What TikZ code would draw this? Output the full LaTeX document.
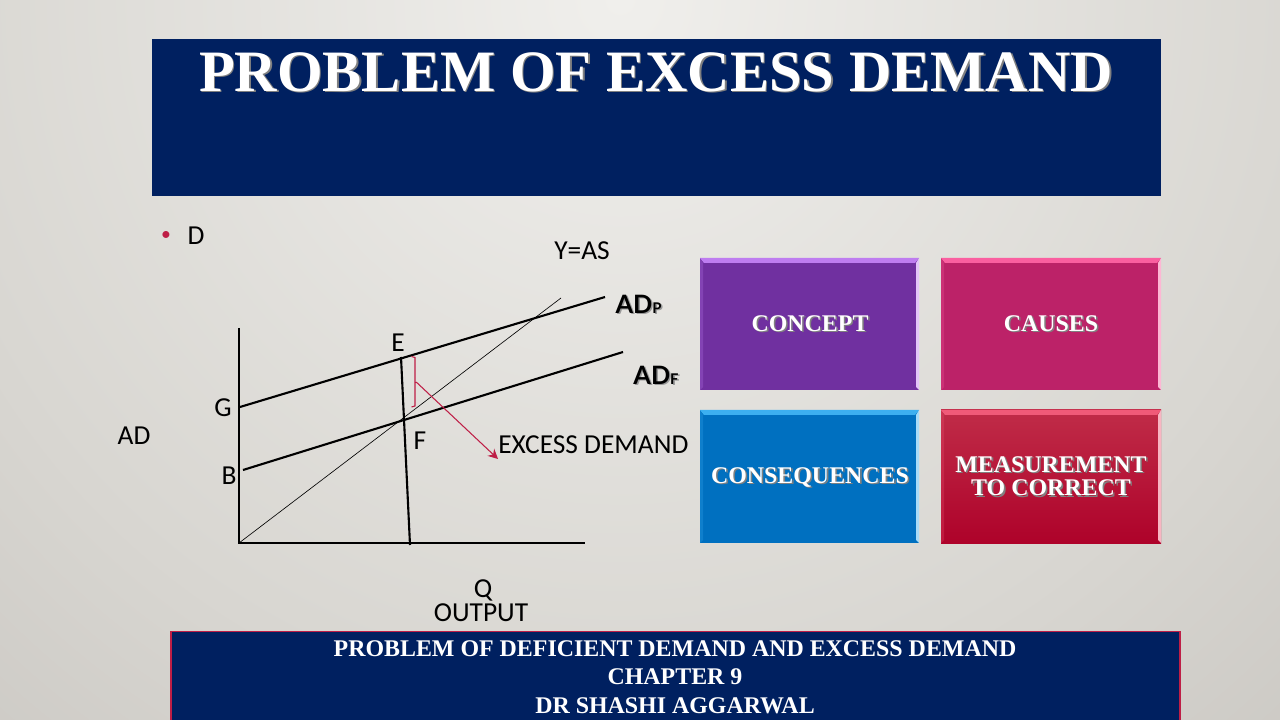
\documentclass[tikz,border=0pt]{standalone}
\usepackage{fontspec}
\setmainfont{Carlito}
\newfontfamily\headfont{Liberation Serif}
\newfontfamily\curvefont{Lato}
\usepackage{tikz}
\usetikzlibrary{arrows.meta,calc}
\definecolor{bginner}{RGB}{240,239,236}
\definecolor{bgmid}{RGB}{216,214,209}
\definecolor{bgouter}{RGB}{198,195,190}
\definecolor{dfnavy}{RGB}{0,32,96}
\definecolor{dfred}{RGB}{190,30,70}
\definecolor{dfpurple}{RGB}{112,48,160}
\definecolor{dfpurplelt}{RGB}{190,125,240}
\definecolor{dfmagenta}{RGB}{188,34,104}
\definecolor{dfmagentalt}{RGB}{250,95,160}
\definecolor{dfblue}{RGB}{0,112,192}
\definecolor{dfbluelt}{RGB}{60,175,240}
\definecolor{dfcrimson}{RGB}{174,2,42}
\definecolor{dfcrimsontop}{RGB}{192,44,72}
\definecolor{dfcrimsonlt}{RGB}{240,90,120}
\pgfdeclareradialshading{slidebg}{\pgfpointorigin}{color(0bp)=(bginner); color(18bp)=(bgmid); color(29bp)=(bgouter); color(50bp)=(bgouter)}
% text with a soft drop shadow
\newcommand{\shadowtxt}[2][black!50]{\leavevmode\rlap{\kern1.1pt\raisebox{-1.1pt}{\textcolor{#1}{#2}}}#2}
\tikzstyle{axis} = [line width=1.5pt,black]
\tikzstyle{curve} = [line width=1.5pt,black]
\tikzstyle{plainlabel} = [font=\fontsize{19.5}{22}\selectfont,text=black,inner sep=0pt]
\tikzstyle{adlabel} = [font=\curvefont\bfseries\fontsize{18}{20}\selectfont,text=black,inner sep=0pt]
\tikzstyle{tilelabel} = [font=\headfont\bfseries\fontsize{17}{17}\selectfont,text=white,align=center,inner sep=0pt]
\tikzset{
  tile/.style 2 args={fill=#1,inner sep=0pt,
    path picture={
      \fill[#2] (path picture bounding box.north west) -- (path picture bounding box.north east)
        -- ++(-4,5) -- ($(path picture bounding box.north west)+(4,5)$) -- cycle;
      \fill[#2!45!white] (path picture bounding box.north east) -- (path picture bounding box.south east)
        -- ++(-3,-3) -- ($(path picture bounding box.north east)+(-3,5)$) -- cycle;
      \fill[#2,opacity=0.25] (path picture bounding box.north west) -- (path picture bounding box.south west)
        -- ++(3,-3) -- ($(path picture bounding box.north west)+(3,5)$) -- cycle;
    }}
}
\begin{document}
\begin{tikzpicture}[x=0.025cm,y=-0.025cm]
    \useasboundingbox (0,0) rectangle (1280,720);
    \fill[bgouter] (0,0) rectangle (1280,720);
    \begin{scope}
        \clip (0,0) rectangle (1280,720);
        \shade[shading=slidebg] (620,0) circle [radius=25cm];
    \end{scope}

    % title and footer
    \fill[dfnavy] (152,39) rectangle (1161,196);
    \node[font=\headfont\bfseries\fontsize{41.7}{46}\selectfont,text=white,inner sep=0pt] (title) at (656,73) {\shadowtxt{PROBLEM OF EXCESS DEMAND}};
    \draw[dfred,line width=1pt,fill=dfnavy] (171,720.5) -- (171,631.5) -- (1180,631.5) -- (1180,720.5);
    \node[font=\headfont\bfseries\fontsize{17}{20.5}\selectfont,text=white,align=center,inner sep=0pt,anchor=north] (footer) at (675,640) {PROBLEM OF DEFICIENT DEMAND AND EXCESS DEMAND\\CHAPTER 9\\DR SHASHI AGGARWAL};

    % bullet
    \node[font=\fontsize{14}{16}\selectfont,text=dfred,inner sep=0pt] (bullet) at (166,236) {•};
    \node[plainlabel] (bulletD) at (196,236) {D};

    % graph points
    \coordinate (origin) at (239,543);
    \coordinate (axistop) at (239,328);
    \coordinate (axisend) at (585,543);
    \coordinate (ptG) at (240,407);
    \coordinate (adpend) at (605,297);
    \coordinate (ptB) at (243,470);
    \coordinate (adfend) at (623,352);
    \coordinate (ptE) at (401,357);
    \coordinate (ptQ) at (410,545);
    \coordinate (yasend) at (561,298);

    \draw[axis] (axistop) -- (origin) -- (axisend);
    \draw[curve] (ptG) -- (adpend);
    \draw[curve] (ptB) -- (adfend);
    \draw[curve] (ptE) -- (ptQ);
    \draw[black,line width=0.45pt] (origin) -- (yasend);

    % bracket and pointer
    \coordinate (brtop) at (411.5,356.5);
    \coordinate (brbot) at (411.5,407);
    \coordinate (brtip) at (416.5,382.3);
    \coordinate (ptrend) at (498,459);
    \draw[dfred,line width=0.75pt] (brtop) -- (415,357.5) -- (415,406) -- (brbot);
    \draw[dfred,line width=0.75pt,-{Stealth[length=7pt,width=7pt]}] (415,382.5) -- (brtip) -- (ptrend);

    \node[plainlabel] (labelYAS) at (582,251) {Y=AS};
    \node[adlabel] (labelADP) at (638.5,305) {\shadowtxt[black!40]{AD\raisebox{0pt}{\fontsize{10.5}{10}\selectfont P}}};
    \node[adlabel] (labelADF) at (656,376) {\shadowtxt[black!40]{AD\raisebox{0pt}{\fontsize{10.5}{10}\selectfont F}}};
    \node[plainlabel] (labelE) at (398,343) {E};
    \node[plainlabel] (labelF) at (420,441) {F};
    \node[plainlabel] (labelG) at (223,408) {G};
    \node[plainlabel] (labelB) at (229,476) {B};
    \node[plainlabel] (labelAD) at (134,436) {AD};
    \node[plainlabel,anchor=west] (labelED) at (498,445) {EXCESS DEMAND};
    \node[plainlabel] (labelQ) at (483,590) {Q};
    \node[plainlabel] (labelOUT) at (481,613) {OUTPUT};

    % the four tiles
    \path[tile={dfpurple}{dfpurplelt}] (700,258) rectangle (919,390);
    \path[tile={dfmagenta}{dfmagentalt}] (941,258) rectangle (1161,390);
    \path[tile={dfblue}{dfbluelt}] (700,410) rectangle (919,543);
    \path[tile={dfcrimson}{dfcrimsonlt},bottom color=dfcrimson,top color=dfcrimsontop] (941,410) rectangle (1161,543);
    \node[tilelabel] (concept) at (810,324) {\shadowtxt{CONCEPT}};
    \node[tilelabel] (causes) at (1051,324) {\shadowtxt{CAUSES}};
    \node[tilelabel] (conseq) at (810,478) {\shadowtxt{CONSEQUENCES}};
    \node[tilelabel] (measure) at (1051,477) {\shadowtxt{MEASUREMENT}\\\shadowtxt{TO CORRECT}};
\end{tikzpicture}
\end{document}
